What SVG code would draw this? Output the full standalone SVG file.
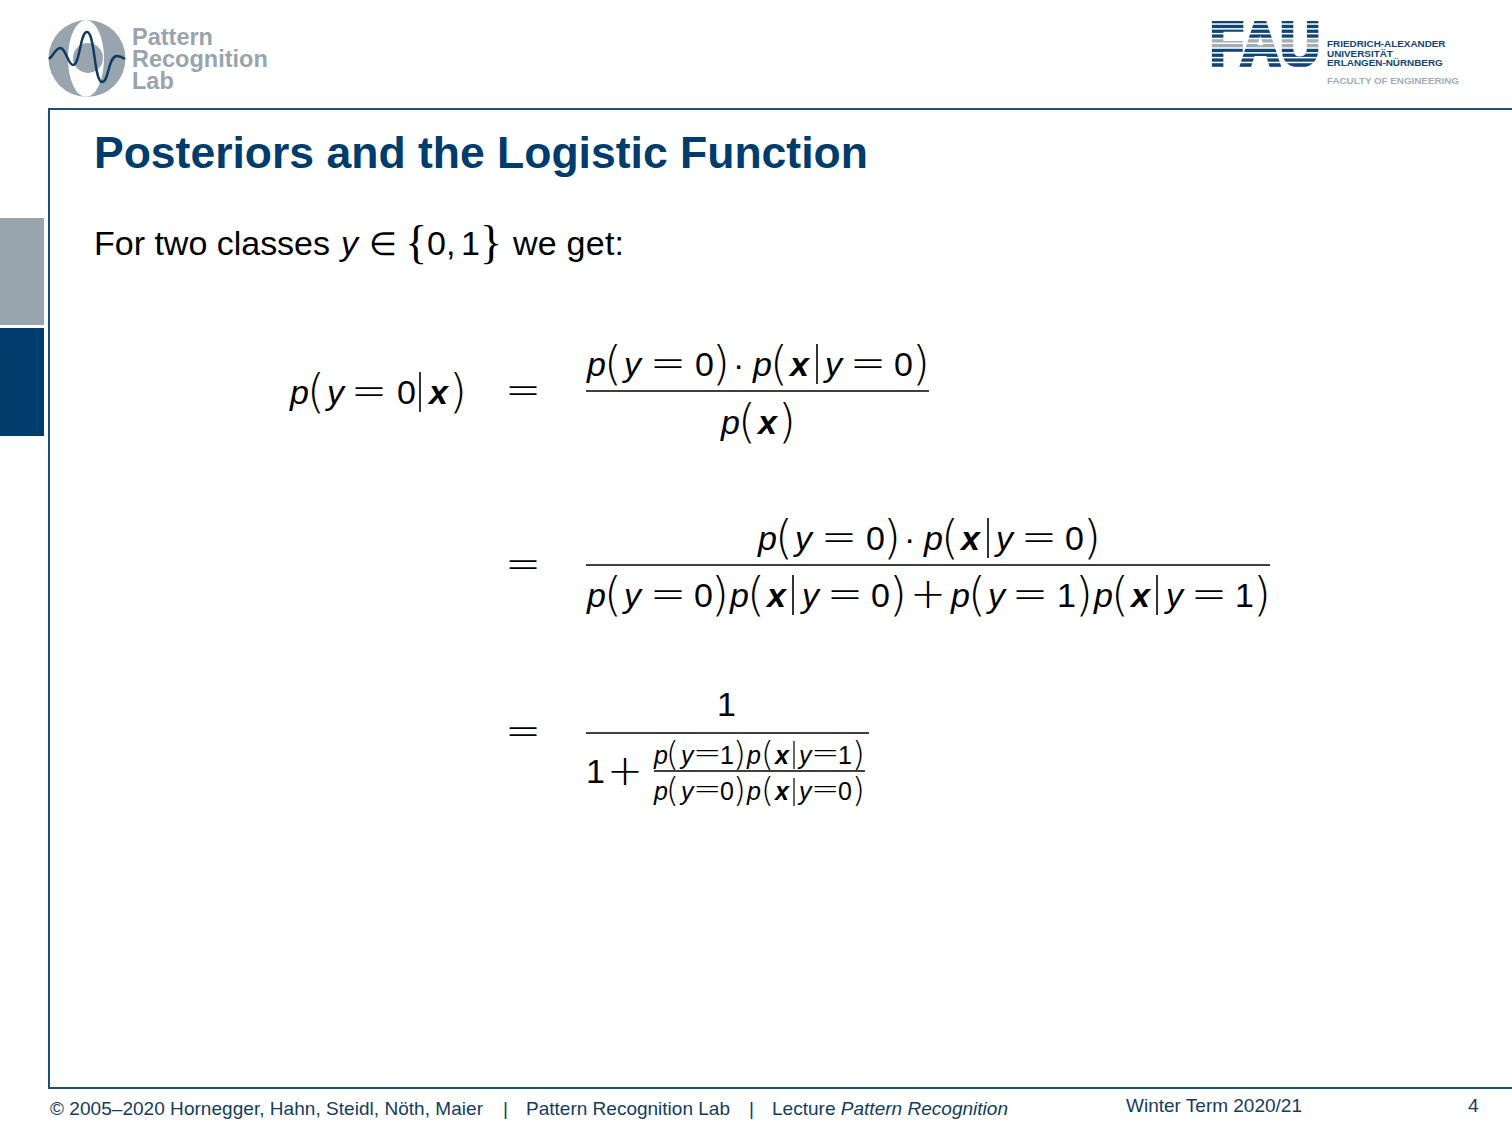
<svg xmlns="http://www.w3.org/2000/svg" width="1512" height="1134" viewBox="0 0 1512 1134">
<defs>
<pattern id="fau" patternUnits="userSpaceOnUse" x="0" y="20" width="1512" height="48">
<rect width="1512" height="48" fill="#fff"/>
<rect y="0" width="1512" height="3.3" fill="#0f4677"/>
<rect y="4.8" width="1512" height="3.3" fill="#0f4677"/>
<rect y="9.6" width="1512" height="3.3" fill="#0f4677"/>
<rect y="14.4" width="1512" height="3.3" fill="#0f4677"/>
<rect y="19.2" width="1512" height="3.3" fill="#a3adb6"/>
<rect y="24" width="1512" height="3.3" fill="#a3adb6"/>
<rect y="28.8" width="1512" height="3.3" fill="#0f4677"/>
<rect y="33.6" width="1512" height="3.3" fill="#0f4677"/>
<rect y="38.4" width="1512" height="3.3" fill="#0f4677"/>
<rect y="43.2" width="1512" height="3.6" fill="#0f4677"/>
</pattern>
</defs>
<style>
text{font-family:"Liberation Sans",Arial,sans-serif;fill:#000}
.m{font-size:34px}
.i{font-size:34px;font-style:italic}
.b{font-size:34px;font-style:italic;font-weight:bold}
.p{font-family:"DejaVu Sans",sans-serif;font-size:46px;font-weight:200;transform:translateY(2px)}
.e{font-family:"DejaVu Sans",sans-serif;font-size:43px;font-weight:200}
.s{font-size:25px}
.si{font-size:25px;font-style:italic}
.sb{font-size:25px;font-style:italic;font-weight:bold}
.sp{font-family:"DejaVu Sans",sans-serif;font-size:33px;font-weight:200;transform:translateY(1px)}
.se{font-family:"DejaVu Sans",sans-serif;font-size:34px;font-weight:200}
.f{font-size:19px;fill:#123c5f}
.g{fill:#98a4ae;font-weight:bold;font-size:23.5px}
.u{fill:#0f4677;font-weight:bold;font-size:9.9px}
.r{stroke:#000;stroke-width:1.6}
</style>
<g id="frame">
<path d="M1512 109H49V1088H1512" fill="none" stroke="#1d4f77" stroke-width="2"/>
<rect x="0" y="218" width="44" height="107" fill="#98a4ae"/>
<rect x="0" y="328" width="44" height="108" fill="#003c6c"/>
</g>
<g id="pr-logo">
<circle cx="87" cy="58.5" r="38.5" fill="#98a4ae"/>
<ellipse cx="86" cy="58.5" rx="18" ry="38.5" fill="#fff"/>
<circle cx="88" cy="58" r="15" fill="#98a4ae"/>
<path d="M49 59C53 56 56 48 60 48C66 48 68 65 73 65C80 65 80 32 87 32C95 32 94 82 102 82C109 82 108 56 117 56C120 56 122 57 125 59" fill="none" stroke="#0f3a62" stroke-width="2.4"/>
<text class="g" x="132" y="45">Pattern</text>
<text class="g" x="132" y="67">Recognition</text>
<text class="g" x="132" y="89">Lab</text>
</g>
<g id="fau-logo">
<text x="1210" y="65" font-size="62" font-weight="bold" textLength="110" lengthAdjust="spacingAndGlyphs" style="fill:url(#fau);stroke:url(#fau);stroke-width:4">FAU</text>
<text class="u" x="1327" y="47">FRIEDRICH-ALEXANDER</text>
<text class="u" x="1327" y="56.5">UNIVERSITÄT</text>
<text class="u" x="1327" y="66">ERLANGEN-NÜRNBERG</text>
<text x="1327" y="84" font-size="9.8" font-weight="bold" style="fill:#a3adb6">FACULTY OF ENGINEERING</text>
</g>
<g id="title"><text x="94" y="168" font-size="44.5" font-weight="bold" style="fill:#003c6c">Posteriors and the Logistic Function</text></g>
<g id="intro">
<text x="94" y="255" font-size="34" textLength="236">For two classes</text>
<text class="i" x="341" y="255">y</text>
<text x="369" y="255" style="font-family:'DejaVu Sans',sans-serif;font-size:32px;font-weight:200">∈</text>
<text x="405" y="258" font-size="46" style="font-family:'Liberation Serif',serif">{</text>
<text class="m" x="427" y="255">0,</text>
<text class="m" x="461" y="255">1</text>
<text x="480" y="258" font-size="46" style="font-family:'Liberation Serif',serif">}</text>
<text x="513" y="255" font-size="34" textLength="111">we get:</text>
</g>
<g id="line1">
<text class="i" x="290" y="404">p</text><text class="p" x="307" y="405">(</text><text class="i" x="327" y="404">y</text><text class="e" x="351" y="405">=</text><text class="m" x="397" y="404">0</text><line class="r" x1="420" y1="372" x2="420" y2="412"/><text class="b" x="429" y="404">x</text><text class="p" x="449" y="405">)</text>
<text class="e" x="505" y="404">=</text>
<text class="i" x="587" y="376">p</text><text class="p" x="604" y="377">(</text><text class="i" x="624" y="376">y</text><text class="e" x="650" y="377">=</text><text class="m" x="695" y="376">0</text><text class="p" x="712" y="377">)</text><text class="m" x="733" y="376">·</text><text class="i" x="753" y="376">p</text><text class="p" x="770" y="377">(</text><text class="b" x="790" y="376">x</text><line class="r" x1="817" y1="344" x2="817" y2="384"/><text class="i" x="825" y="376">y</text><text class="e" x="850" y="377">=</text><text class="m" x="894" y="376">0</text><text class="p" x="912" y="377">)</text>
<line class="r" x1="586" y1="391" x2="929" y2="391"/>
<text class="i" x="721" y="434">p</text><text class="p" x="738" y="435">(</text><text class="b" x="758" y="434">x</text><text class="p" x="778" y="435">)</text>
</g>
<g id="line2">
<text class="e" x="505" y="578">=</text>
<text class="i" x="758" y="550">p</text><text class="p" x="775" y="551">(</text><text class="i" x="795" y="550">y</text><text class="e" x="821" y="551">=</text><text class="m" x="866" y="550">0</text><text class="p" x="883" y="551">)</text><text class="m" x="904" y="550">·</text><text class="i" x="924" y="550">p</text><text class="p" x="941" y="551">(</text><text class="b" x="961" y="550">x</text><line class="r" x1="988" y1="518" x2="988" y2="558"/><text class="i" x="996" y="550">y</text><text class="e" x="1021" y="551">=</text><text class="m" x="1065" y="550">0</text><text class="p" x="1083" y="551">)</text>
<line class="r" x1="586" y1="565" x2="1270" y2="565"/>
<text class="i" x="587" y="607">p</text><text class="p" x="604" y="608">(</text><text class="i" x="624" y="607">y</text><text class="e" x="650" y="608">=</text><text class="m" x="694" y="607">0</text><text class="p" x="711" y="608">)</text><text class="i" x="730" y="607">p</text><text class="p" x="747" y="608">(</text><text class="b" x="767" y="607">x</text><line class="r" x1="793" y1="575" x2="793" y2="615"/><text class="i" x="802" y="607">y</text><text class="e" x="827" y="608">=</text><text class="m" x="871" y="607">0</text><text class="p" x="889" y="608">)</text><text class="e" x="910" y="608">+</text><text class="i" x="951" y="607">p</text><text class="p" x="968" y="608">(</text><text class="i" x="988" y="607">y</text><text class="e" x="1012" y="608">=</text><text class="m" x="1057" y="607">1</text><text class="p" x="1075" y="608">)</text><text class="i" x="1094" y="607">p</text><text class="p" x="1111" y="608">(</text><text class="b" x="1131" y="607">x</text><line class="r" x1="1157" y1="575" x2="1157" y2="615"/><text class="i" x="1166" y="607">y</text><text class="e" x="1191" y="608">=</text><text class="m" x="1235" y="607">1</text><text class="p" x="1253" y="608">)</text>
</g>
<g id="line3">
<text class="e" x="505" y="745">=</text>
<text class="m" x="717" y="716">1</text>
<line class="r" x1="586" y1="733" x2="869" y2="733"/>
<text class="m" x="586" y="783">1</text><text class="e" x="607" y="785">+</text>
<text class="si" x="654" y="764">p</text><text class="sp" x="666" y="765">(</text><text class="si" x="681" y="764">y</text><text class="se" x="693" y="764">=</text><text class="s" x="720" y="764">1</text><text class="sp" x="733" y="765">)</text><text class="si" x="747" y="764">p</text><text class="sp" x="761" y="765">(</text><text class="sb" x="775" y="764">x</text><line class="r" x1="794" y1="741" x2="794" y2="769" style="stroke-width:1.2"/><text class="si" x="799" y="764">y</text><text class="se" x="811" y="764">=</text><text class="s" x="838" y="764">1</text><text class="sp" x="852" y="765">)</text>
<line class="r" x1="654" y1="771" x2="865" y2="771"/>
<text class="si" x="654" y="800">p</text><text class="sp" x="666" y="801">(</text><text class="si" x="681" y="800">y</text><text class="se" x="693" y="800">=</text><text class="s" x="720" y="800">0</text><text class="sp" x="733" y="801">)</text><text class="si" x="747" y="800">p</text><text class="sp" x="761" y="801">(</text><text class="sb" x="775" y="800">x</text><line class="r" x1="794" y1="778" x2="794" y2="806" style="stroke-width:1.2"/><text class="si" x="799" y="800">y</text><text class="se" x="811" y="800">=</text><text class="s" x="838" y="800">0</text><text class="sp" x="852" y="801">)</text>
</g>
<g id="footer">
<text class="f" x="50" y="1115" textLength="433">© 2005–2020 Hornegger, Hahn, Steidl, Nöth, Maier</text>
<text class="f" x="503" y="1115">|</text>
<text class="f" x="526" y="1115" textLength="204">Pattern Recognition Lab</text>
<text class="f" x="749" y="1115">|</text>
<text class="f" x="772" y="1115" textLength="236">Lecture <tspan font-style="italic">Pattern Recognition</tspan></text>
<text class="f" x="1126" y="1112" textLength="176">Winter Term 2020/21</text>
<text class="f" x="1468" y="1112">4</text>
</g>
</svg>
